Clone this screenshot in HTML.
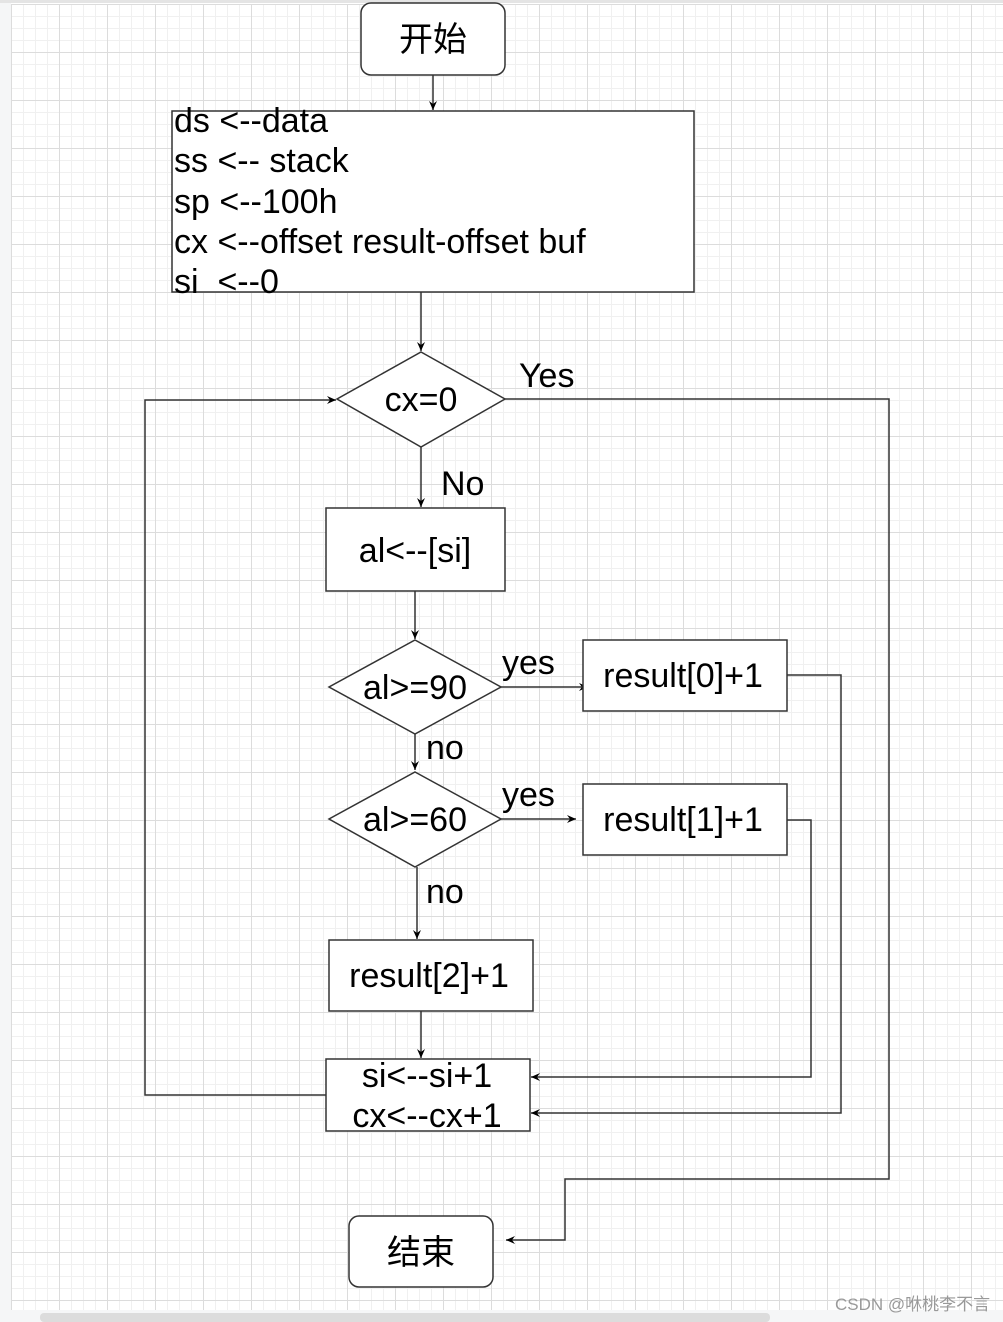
<!DOCTYPE html>
<html><head><meta charset="utf-8"><style>
html,body{margin:0;padding:0;background:#fff;}
svg{display:block;}
text{font-family:"Liberation Sans","Noto Sans CJK SC",sans-serif;fill:#000;}
</style></head><body>
<svg width="1003" height="1322" viewBox="0 0 1003 1322" xmlns="http://www.w3.org/2000/svg">
<defs>
<pattern id="minor" x="11" y="4" width="12" height="12" patternUnits="userSpaceOnUse">
<path d="M0 0.5H12M0.5 0V12" stroke="#f0f0f0" stroke-width="1" fill="none"/>
</pattern>
<pattern id="major" x="11" y="4" width="48" height="48" patternUnits="userSpaceOnUse">
<path d="M0 0.5H48M0.5 0V48" stroke="#dcdcdc" stroke-width="1" fill="none"/>
</pattern>
<marker id="a" markerWidth="10" markerHeight="10" refX="9" refY="5" orient="auto" markerUnits="userSpaceOnUse">
<path d="M0,1 L9,5 L0,9 L3,5 Z" fill="#000"/>
</marker>
</defs>
<rect x="0" y="0" width="1003" height="1322" fill="#fff"/>
<rect x="11" y="4" width="992" height="1306" fill="url(#minor)"/>
<rect x="11" y="4" width="992" height="1306" fill="url(#major)"/>
<rect x="0" y="0" width="11" height="1322" fill="#f5f6f7"/>
<rect x="0" y="0" width="1003" height="3" fill="#e4e4e4"/>
<rect x="0" y="1310" width="1003" height="12" fill="#f5f6f7"/>
<rect x="40" y="1313" width="730" height="9" rx="4" fill="#dcdcdc"/>

<g stroke="#333" stroke-width="1.5" fill="none">
<line x1="433" y1="75" x2="433" y2="110" marker-end="url(#a)"/>
<line x1="421" y1="292" x2="421" y2="351" marker-end="url(#a)"/>
<polyline points="505,399 889,399 889,1179 565,1179 565,1240 506,1240" marker-end="url(#a)"/>
<line x1="421" y1="447" x2="421" y2="507" marker-end="url(#a)"/>
<line x1="415" y1="591" x2="415" y2="639" marker-end="url(#a)"/>
<line x1="501" y1="687" x2="588" y2="687" marker-end="url(#a)"/>
<polyline points="787,675 841,675 841,1113 531,1113" marker-end="url(#a)"/>
<line x1="415" y1="734" x2="415" y2="770" marker-end="url(#a)"/>
<line x1="501" y1="819" x2="576" y2="819" marker-end="url(#a)"/>
<polyline points="787,820 811,820 811,1077 531,1077" marker-end="url(#a)"/>
<line x1="417" y1="867" x2="417" y2="939" marker-end="url(#a)"/>
<line x1="421" y1="1011" x2="421" y2="1058" marker-end="url(#a)"/>
<polyline points="326,1095 145,1095 145,400 336,400" marker-end="url(#a)"/>
</g>

<g stroke="#333" stroke-width="1.5" fill="#fff">
<rect x="361" y="3" width="144" height="72" rx="10"/>
<rect x="172" y="111" width="522" height="181"/>
<polygon points="421,352 505,399 421,447 337,399"/>
<rect x="326" y="508" width="179" height="83"/>
<polygon points="415,640 501,687 415,734 329,687"/>
<rect x="583" y="640" width="204" height="71"/>
<polygon points="415,772 501,819 415,867 329,819"/>
<rect x="583" y="784" width="204" height="71"/>
<rect x="329" y="940" width="204" height="71"/>
<rect x="326" y="1059" width="204" height="72"/>
<rect x="349" y="1216" width="144" height="71" rx="10"/>
</g>

<g font-size="34">
<text x="433" y="51" text-anchor="middle" font-size="34">开始</text>
<text x="174" y="132">ds &lt;--data</text>
<text x="174" y="172">ss &lt;-- stack</text>
<text x="174" y="213">sp &lt;--100h</text>
<text x="174" y="253">cx &lt;--offset result-offset buf</text>
<text x="174" y="293">si&#160;&#160;&lt;--0</text>
<text x="421" y="411" text-anchor="middle">cx=0</text>
<text x="519" y="387">Yes</text>
<text x="441" y="495">No</text>
<text x="415" y="562" text-anchor="middle">al&lt;--[si]</text>
<text x="415" y="699" text-anchor="middle">al&gt;=90</text>
<text x="502" y="674">yes</text>
<text x="683" y="687" text-anchor="middle">result[0]+1</text>
<text x="426" y="759">no</text>
<text x="415" y="831" text-anchor="middle">al&gt;=60</text>
<text x="502" y="806">yes</text>
<text x="683" y="831" text-anchor="middle">result[1]+1</text>
<text x="426" y="903">no</text>
<text x="429" y="987" text-anchor="middle">result[2]+1</text>
<text x="427" y="1087" text-anchor="middle">si&lt;--si+1</text>
<text x="427" y="1127" text-anchor="middle">cx&lt;--cx+1</text>
<text x="421" y="1264" text-anchor="middle" font-size="34">结束</text>
</g>
<text x="835" y="1310" font-size="17" style="fill:#999">CSDN @咻桃李不言</text>
</svg>
</body></html>
